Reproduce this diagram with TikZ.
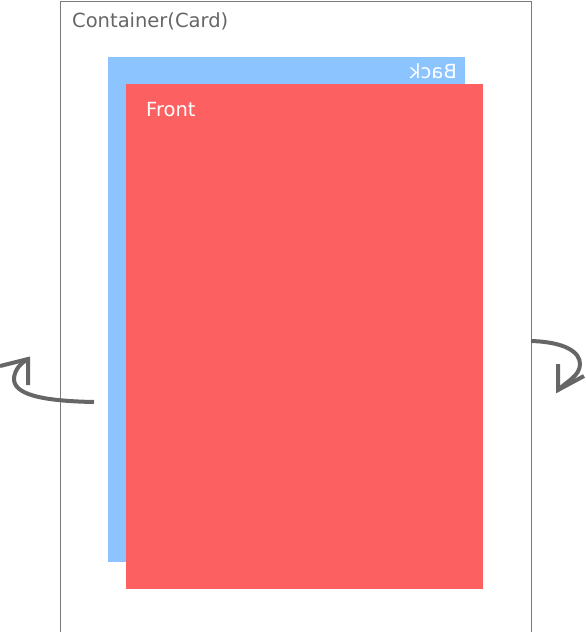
\documentclass[tikz,border=0pt]{standalone}
\usepackage{fontspec}
\setmainfont{DejaVu Sans}
\definecolor{bordergray}{HTML}{7A7A7A}
\definecolor{textgray}{HTML}{666666}
\definecolor{backblue}{HTML}{8CC4FF}
\definecolor{frontred}{HTML}{FC6060}
\definecolor{arrowgray}{HTML}{666666}
\tikzset{
  panel/.style={draw=none, inner sep=0pt, outer sep=0pt, minimum width=357pt, minimum height=505pt, anchor=north west},
  lbl/.style={inner sep=0pt, font=\fontsize{19.5}{22}\selectfont},
  rot/.style={draw=arrowgray, line width=4pt},
  barb/.style={draw=arrowgray, line width=4pt, line join=miter}
}
\begin{document}
\begin{tikzpicture}[x=1pt,y=-1pt]
\useasboundingbox (0,0) rectangle (586,632);
\node[draw=bordergray, line width=1pt, inner sep=0pt, minimum width=471pt, minimum height=631pt, anchor=north west] (container) at (59.5,0.5) {};
\node[lbl, text=textgray, anchor=west] (ctitle) at (72,21) {Container(Card)};
\node[panel, fill=backblue] (back) at (108,57) {};
\node[lbl, text=white, anchor=east] (backlbl) at (457,71) {\reflectbox{Back}};
\node[panel, fill=frontred] (front) at (126,84) {};
\node[lbl, text=white, anchor=west] (frontlbl) at (146,110) {Front};
% left rotation arrow
\coordinate (l0) at (94,402);
\coordinate (l1) at (28,359);
\coordinate (la) at (0,366);
\coordinate (lb) at (28,385);
\draw[rot] (l0) .. controls (40,401) and (13,394) .. (14,378) .. controls (15,369) and (21,363) .. (l1);
\draw[barb] (la) -- (l1) -- (lb);
% right rotation arrow
\coordinate (r0) at (531,341);
\coordinate (r1) at (558,390);
\coordinate (ra) at (558,364);
\coordinate (rb) at (584,376);
\draw[rot] (r0) .. controls (565,342) and (580,352) .. (580,364) .. controls (580,376) and (566,382) .. (r1);
\draw[barb] (ra) -- (r1) -- (rb);
\end{tikzpicture}
\end{document}
